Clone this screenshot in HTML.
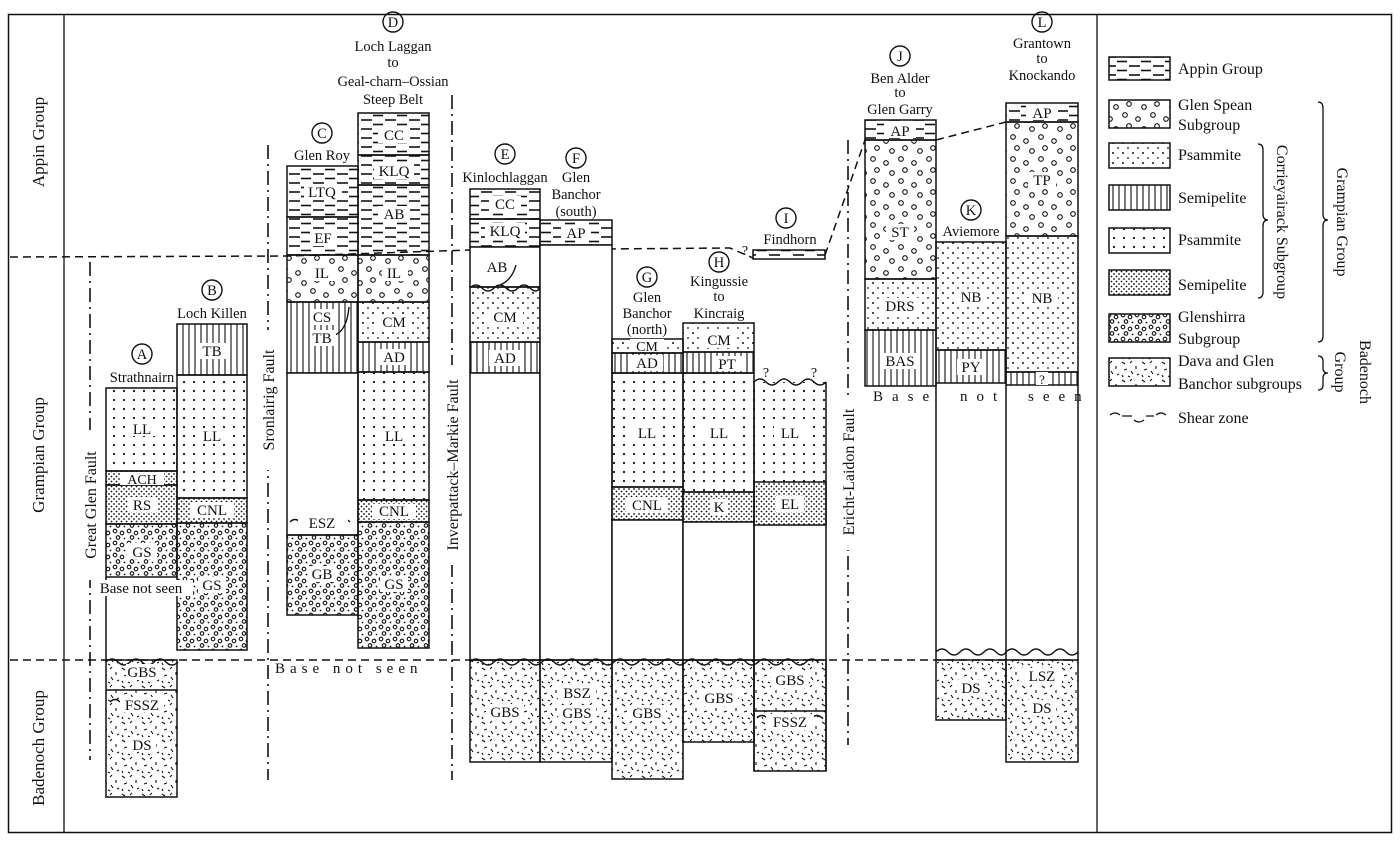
<!DOCTYPE html>
<html><head><meta charset="utf-8"><style>
html,body{margin:0;padding:0;background:#fff}
svg{display:block}
text{font-family:"Liberation Serif",serif;fill:#111}
</style></head><body>
<svg width="1400" height="853" viewBox="0 0 1400 853" xmlns="http://www.w3.org/2000/svg">
<defs>
<pattern id="ap" width="24" height="9" patternUnits="userSpaceOnUse">
<line x1="1" y1="3" x2="12" y2="3" stroke="#111" stroke-width="1.6"/>
<line x1="13" y1="7.5" x2="23" y2="7.5" stroke="#111" stroke-width="1.6"/>
</pattern>
<pattern id="sp" width="28" height="22" patternUnits="userSpaceOnUse">
<circle cx="5" cy="5" r="2.3" fill="none" stroke="#111" stroke-width="1.1"/>
<circle cx="18" cy="9" r="2.3" fill="none" stroke="#111" stroke-width="1.1"/>
<circle cx="9" cy="16" r="2.3" fill="none" stroke="#111" stroke-width="1.1"/>
<circle cx="24" cy="19" r="2.3" fill="none" stroke="#111" stroke-width="1.1"/>
</pattern>
<pattern id="ps" width="10" height="10" patternUnits="userSpaceOnUse">
<circle cx="3" cy="3" r="1" fill="#111"/><circle cx="8" cy="8" r="0.9" fill="#111"/>
</pattern>
<pattern id="ps2" width="10" height="9" patternUnits="userSpaceOnUse">
<circle cx="4" cy="4" r="1.1" fill="#111"/>
</pattern>
<pattern id="sm" width="6" height="10" patternUnits="userSpaceOnUse">
<line x1="3" y1="0" x2="3" y2="10" stroke="#111" stroke-width="1.1"/>
</pattern>
<pattern id="sm2" width="5" height="5" patternUnits="userSpaceOnUse">
<circle cx="1.5" cy="1.5" r="0.9" fill="#111"/><circle cx="4" cy="4" r="0.9" fill="#111"/>
</pattern>
<pattern id="gs" width="14" height="12" patternUnits="userSpaceOnUse">
<circle cx="3" cy="3" r="1.8" fill="none" stroke="#111" stroke-width="1.1"/>
<circle cx="10" cy="5" r="1.8" fill="none" stroke="#111" stroke-width="1.1"/>
<circle cx="6" cy="9.5" r="1.8" fill="none" stroke="#111" stroke-width="1.1"/>
<circle cx="12.5" cy="10.5" r="0.9" fill="#111"/>
</pattern>
<pattern id="dv" width="20" height="18" patternUnits="userSpaceOnUse">
<g stroke="#111" stroke-width="1.1">
<line x1="2" y1="2" x2="5" y2="4"/><line x1="10" y1="3" x2="12" y2="1"/><line x1="16" y1="6" x2="16" y2="9"/>
<line x1="4" y1="10" x2="7" y2="9"/><line x1="11" y1="11" x2="13" y2="14"/><line x1="2" y1="15" x2="3" y2="17"/>
<line x1="17" y1="15" x2="19" y2="14"/><line x1="8" y1="16" x2="10" y2="17"/>
</g>
</pattern>
</defs>

<rect x="8.5" y="14.5" width="1383" height="818" fill="none" stroke="#111" stroke-width="1.5"/>
<line x1="64" y1="14" x2="64" y2="832" stroke="#111" stroke-width="1.3"/>
<line x1="1097" y1="14" x2="1097" y2="832" stroke="#111" stroke-width="1.3"/>

<text transform="translate(44,142) rotate(-90)" font-size="17" text-anchor="middle">Appin Group</text>
<text transform="translate(44,455) rotate(-90)" font-size="17" text-anchor="middle">Grampian Group</text>
<text transform="translate(44,748) rotate(-90)" font-size="17" text-anchor="middle">Badenoch Group</text>

<!-- faults -->
<g stroke="#111" stroke-width="1.6" stroke-dasharray="14,5,2,5" fill="none">
<line x1="90" y1="262" x2="90" y2="760"/>
<line x1="268" y1="145" x2="268" y2="780"/>
<line x1="452" y1="95" x2="452" y2="780"/>
<line x1="848" y1="140" x2="848" y2="745"/>
</g>
<g font-size="16" text-anchor="middle">
<rect x="80" y="430" width="20" height="150" fill="#fff"/>
<text transform="translate(96,505) rotate(-90)">Great Glen Fault</text>
<rect x="258" y="330" width="20" height="140" fill="#fff"/>
<text transform="translate(274,400) rotate(-90)">Sronlairig Fault</text>
<rect x="442" y="365" width="20" height="200" fill="#fff"/>
<text transform="translate(458,465) rotate(-90)">Inverpattack–Markie Fault</text>
<rect x="838" y="400" width="20" height="150" fill="#fff"/>
<text transform="translate(854,472) rotate(-90)">Ericht-Laidon Fault</text>
</g>

<!-- boundary dashed lines -->
<g stroke="#111" stroke-width="1.5" stroke-dasharray="8,5" fill="none">
<polyline points="10,257 290,256 470,250 730,248 753,258"/>
<polyline points="825,255 865,140"/>
<polyline points="936,140 1006,122"/>
<line x1="10" y1="660" x2="1078" y2="660"/>
</g>

<g stroke="#111" stroke-width="1.5">
<!-- A -->
<rect x="106" y="388" width="71" height="83" fill="url(#ps2)"/>
<rect x="106" y="471" width="71" height="14" fill="url(#sm2)"/>
<rect x="106" y="485" width="71" height="39" fill="url(#sm2)"/>
<rect x="106" y="524" width="71" height="53" fill="url(#gs)"/>
<line x1="106" y1="577" x2="106" y2="660"/>
<rect x="106" y="660" width="71" height="137" fill="url(#dv)"/>
<!-- B -->
<rect x="177" y="324" width="70" height="51" fill="url(#sm)"/>
<rect x="177" y="375" width="70" height="123" fill="url(#ps2)"/>
<rect x="177" y="498" width="70" height="25" fill="url(#sm2)"/>
<rect x="177" y="523" width="70" height="127" fill="url(#gs)"/>
<!-- C -->
<rect x="287" y="166" width="71" height="51" fill="url(#ap)"/>
<rect x="287" y="217" width="71" height="38" fill="url(#ap)"/>
<rect x="287" y="255" width="71" height="47" fill="url(#sp)"/>
<rect x="287" y="302" width="71" height="71" fill="url(#sm)"/>
<rect x="287" y="373" width="71" height="162" fill="#fff"/>
<rect x="287" y="535" width="71" height="80" fill="url(#gs)"/>
<!-- D -->
<rect x="358" y="113" width="71" height="42" fill="url(#ap)"/>
<rect x="358" y="155" width="71" height="30" fill="url(#ap)"/>
<rect x="358" y="185" width="71" height="70" fill="url(#ap)"/>
<rect x="358" y="255" width="71" height="47" fill="url(#sp)"/>
<rect x="358" y="302" width="71" height="40" fill="url(#ps)"/>
<rect x="358" y="342" width="71" height="30" fill="url(#sm)"/>
<rect x="358" y="372" width="71" height="128" fill="url(#ps2)"/>
<rect x="358" y="500" width="71" height="22" fill="url(#sm2)"/>
<rect x="358" y="522" width="71" height="126" fill="url(#gs)"/>
<!-- E -->
<rect x="470" y="189" width="70" height="30" fill="url(#ap)"/>
<rect x="470" y="219" width="70" height="28" fill="url(#ap)"/>
<rect x="470" y="247" width="70" height="40" fill="#fff"/>
<rect x="470" y="287" width="70" height="55" fill="url(#ps)"/>
<rect x="470" y="342" width="70" height="31" fill="url(#sm)"/>
<rect x="470" y="373" width="70" height="287" fill="#fff"/>
<rect x="470" y="660" width="70" height="102" fill="url(#dv)"/>
<!-- F -->
<rect x="540" y="220" width="72" height="25" fill="url(#ap)"/>
<rect x="540" y="245" width="72" height="415" fill="#fff"/>
<rect x="540" y="660" width="72" height="102" fill="url(#dv)"/>
<!-- G -->
<rect x="612" y="339" width="71" height="14" fill="url(#ps)"/>
<rect x="612" y="353" width="71" height="20" fill="url(#sm)"/>
<rect x="612" y="373" width="71" height="114" fill="url(#ps2)"/>
<rect x="612" y="487" width="71" height="33" fill="url(#sm2)"/>
<rect x="612" y="520" width="71" height="140" fill="#fff"/>
<rect x="612" y="660" width="71" height="119" fill="url(#dv)"/>
<!-- H -->
<rect x="683" y="323" width="71" height="29" fill="url(#ps)"/>
<rect x="683" y="352" width="71" height="21" fill="url(#sm)"/>
<rect x="683" y="373" width="71" height="119" fill="url(#ps2)"/>
<rect x="683" y="492" width="71" height="30" fill="url(#sm2)"/>
<rect x="683" y="522" width="71" height="138" fill="#fff"/>
<rect x="683" y="660" width="71" height="82" fill="url(#dv)"/>
<!-- I -->
<rect x="753" y="250" width="72" height="9" fill="url(#ap)"/>
<rect x="754" y="382" width="72" height="100" fill="url(#ps2)" stroke="none"/>
<path d="M754,382 q6,-6 12,0 t12,0 t12,0 t12,0 t12,0 t12,0" fill="none"/>
<line x1="754" y1="382" x2="754" y2="771"/><line x1="826" y1="382" x2="826" y2="771"/>
<rect x="754" y="482" width="72" height="43" fill="url(#sm2)"/>
<rect x="754" y="660" width="72" height="111" fill="url(#dv)"/>
<!-- J -->
<rect x="865" y="120" width="71" height="20" fill="url(#ap)"/>
<rect x="865" y="140" width="71" height="139" fill="url(#sp)"/>
<rect x="865" y="279" width="71" height="51" fill="url(#ps)"/>
<rect x="865" y="330" width="71" height="56" fill="url(#sm)"/>
<!-- K -->
<rect x="936" y="242" width="70" height="108" fill="url(#ps)"/>
<rect x="936" y="350" width="70" height="33" fill="url(#sm)"/>
<line x1="936" y1="383" x2="936" y2="660"/>
<rect x="936" y="660" width="70" height="60" fill="url(#dv)"/>
<!-- L -->
<rect x="1006" y="103" width="72" height="19" fill="url(#ap)"/>
<rect x="1006" y="122" width="72" height="114" fill="url(#sp)"/>
<rect x="1006" y="236" width="72" height="136" fill="url(#ps)"/>
<rect x="1006" y="372" width="72" height="13" fill="url(#sm)"/>
<line x1="1006" y1="385" x2="1006" y2="660"/><line x1="1078" y1="385" x2="1078" y2="660"/>
<rect x="1006" y="660" width="72" height="102" fill="url(#dv)"/>
</g>

<!-- wavy shear tops -->
<g stroke="#111" stroke-width="1.4" fill="none">
<path d="M106,662 q6,-6 12,0 t12,0 t12,0 t12,0 t12,0 t12,0"/>
<path d="M470,662 q6,-6 12,0 t12,0 t12,0 t12,0 t12,0 t12,0 t12,0 t12,0 t12,0 t12,0 t12,0 t12,0 t12,0 t12,0 t12,0 t12,0 t12,0 t12,0 t12,0 t12,0 t12,0 t12,0 t12,0 t12,0 t12,0 t12,0 t12,0 t12,0 t12,0"/>
<path d="M470,288 q6,-6 12,0 t12,0 t12,0 t12,0 t12,0 t10,0"/>
<path d="M936,652 q6,-6 12,0 t12,0 t12,0 t12,0 t12,0 t10,0"/>
<path d="M1006,652 q6,-6 12,0 t12,0 t12,0 t12,0 t12,0 t12,0"/>
<path d="M110,702 q5,-5 10,0 M150,702 q5,-5 10,0"/>
<path d="M290,522 q5,-5 10,0 M340,522 q5,-5 10,0"/>
<path d="M757,718 q5,-5 10,0 M812,718 q5,-5 10,0"/>
<line x1="754" y1="711" x2="826" y2="711"/>
<line x1="106" y1="690" x2="177" y2="690"/>
<path d="M500,285 q12,-5 16,-20"/>
<path d="M335,335 q12,-5 14,-28"/>
</g>

<!-- labels -->
<g font-size="15" text-anchor="middle">
<rect x="126" y="420" width="32" height="16" fill="#fff"/><text x="142" y="434">LL</text>
<rect x="120" y="472" width="44" height="13" fill="#fff"/><text x="142" y="484" font-size="14">ACH</text>
<rect x="128" y="497" width="30" height="15" fill="#fff"/><text x="142" y="510">RS</text>
<rect x="127" y="543" width="30" height="16" fill="#fff"/><text x="142" y="557">GS</text>
<rect x="95" y="580" width="98" height="16" fill="#fff"/><text x="141" y="593">Base not seen</text>
<rect x="126" y="664" width="32" height="16" fill="#fff"/><text x="142" y="677">GBS</text>
<rect x="120" y="697" width="44" height="15" fill="#fff"/><text x="142" y="710">FSSZ</text>
<rect x="128" y="737" width="28" height="15" fill="#fff"/><text x="142" y="750">DS</text>

<rect x="198" y="343" width="28" height="16" fill="#fff"/><text x="212" y="356">TB</text>
<rect x="196" y="428" width="32" height="16" fill="#fff"/><text x="212" y="441">LL</text>
<rect x="190" y="502" width="44" height="16" fill="#fff"/><text x="212" y="515">CNL</text>
<rect x="198" y="577" width="28" height="16" fill="#fff"/><text x="212" y="590">GS</text>

<rect x="304" y="184" width="38" height="16" fill="#fff"/><text x="322" y="197">LTQ</text>
<rect x="310" y="230" width="26" height="16" fill="#fff"/><text x="323" y="243">EF</text>
<rect x="310" y="265" width="26" height="16" fill="#fff"/><text x="322" y="278">IL</text>
<rect x="310" y="309" width="26" height="16" fill="#fff"/><text x="322" y="322">CS</text>
<rect x="310" y="330" width="26" height="16" fill="#fff"/><text x="322" y="343">TB</text>
<rect x="298" y="515" width="50" height="16" fill="#fff"/><text x="322" y="528">ESZ</text>
<rect x="308" y="566" width="28" height="16" fill="#fff"/><text x="322" y="579">GB</text>

<rect x="378" y="127" width="32" height="16" fill="#fff"/><text x="394" y="140">CC</text>
<rect x="374" y="163" width="40" height="16" fill="#fff"/><text x="394" y="176">KLQ</text>
<rect x="378" y="206" width="32" height="16" fill="#fff"/><text x="394" y="219">AB</text>
<rect x="382" y="265" width="26" height="16" fill="#fff"/><text x="394" y="278">IL</text>
<rect x="376" y="314" width="36" height="16" fill="#fff"/><text x="394" y="327">CM</text>
<rect x="378" y="349" width="32" height="16" fill="#fff"/><text x="394" y="362">AD</text>
<rect x="378" y="428" width="32" height="16" fill="#fff"/><text x="394" y="441">LL</text>
<rect x="372" y="504" width="44" height="15" fill="#fff"/><text x="394" y="516">CNL</text>
<rect x="380" y="576" width="28" height="16" fill="#fff"/><text x="394" y="589">GS</text>

<rect x="489" y="196" width="32" height="16" fill="#fff"/><text x="505" y="209">CC</text>
<rect x="485" y="223" width="40" height="16" fill="#fff"/><text x="505" y="236">KLQ</text>
<text x="497" y="272">AB</text>
<rect x="487" y="309" width="36" height="16" fill="#fff"/><text x="505" y="322">CM</text>
<rect x="489" y="350" width="32" height="16" fill="#fff"/><text x="505" y="363">AD</text>
<rect x="486" y="704" width="38" height="16" fill="#fff"/><text x="505" y="717">GBS</text>

<rect x="561" y="225" width="30" height="15" fill="#fff"/><text x="576" y="238">AP</text>
<rect x="558" y="685" width="38" height="16" fill="#fff"/><text x="577" y="698">BSZ</text>
<rect x="558" y="705" width="38" height="16" fill="#fff"/><text x="577" y="718">GBS</text>

<rect x="630" y="339" width="34" height="13" fill="#fff"/><text x="647" y="351" font-size="14">CM</text>
<rect x="631" y="355" width="32" height="16" fill="#fff"/><text x="647" y="368">AD</text>
<rect x="631" y="425" width="32" height="16" fill="#fff"/><text x="647" y="438">LL</text>
<rect x="626" y="497" width="42" height="16" fill="#fff"/><text x="647" y="510">CNL</text>
<rect x="628" y="705" width="38" height="16" fill="#fff"/><text x="647" y="718">GBS</text>

<rect x="701" y="332" width="36" height="16" fill="#fff"/><text x="719" y="345">CM</text>
<rect x="712" y="356" width="30" height="15" fill="#fff"/><text x="727" y="369">PT</text>
<rect x="703" y="425" width="32" height="16" fill="#fff"/><text x="719" y="438">LL</text>
<rect x="710" y="499" width="18" height="16" fill="#fff"/><text x="719" y="512">K</text>
<rect x="700" y="690" width="38" height="16" fill="#fff"/><text x="719" y="703">GBS</text>

<rect x="774" y="425" width="32" height="16" fill="#fff"/><text x="790" y="438">LL</text>
<rect x="776" y="496" width="28" height="16" fill="#fff"/><text x="790" y="509">EL</text>
<rect x="771" y="672" width="38" height="16" fill="#fff"/><text x="790" y="685">GBS</text>
<rect x="766" y="714" width="48" height="16" fill="#fff"/><text x="790" y="727">FSSZ</text>
<text x="766" y="377" font-size="14">?</text><text x="814" y="377" font-size="14">?</text>
<text x="745" y="255" font-size="14">?</text>

<rect x="884" y="123" width="32" height="15" fill="#fff"/><text x="900" y="136">AP</text>
<rect x="886" y="224" width="28" height="16" fill="#fff"/><text x="900" y="237">ST</text>
<rect x="880" y="298" width="40" height="16" fill="#fff"/><text x="900" y="311">DRS</text>
<rect x="882" y="353" width="36" height="16" fill="#fff"/><text x="900" y="366">BAS</text>

<rect x="955" y="289" width="32" height="16" fill="#fff"/><text x="971" y="302">NB</text>
<rect x="957" y="359" width="28" height="16" fill="#fff"/><text x="971" y="372">PY</text>
<rect x="957" y="680" width="28" height="16" fill="#fff"/><text x="971" y="693">DS</text>

<rect x="1026" y="105" width="32" height="15" fill="#fff"/><text x="1042" y="118">AP</text>
<rect x="1028" y="172" width="28" height="16" fill="#fff"/><text x="1042" y="185">TP</text>
<rect x="1026" y="290" width="32" height="16" fill="#fff"/><text x="1042" y="303">NB</text>
<rect x="1036" y="372" width="12" height="13" fill="#fff"/><text x="1042" y="384" font-size="13">?</text>
<rect x="1022" y="668" width="40" height="16" fill="#fff"/><text x="1042" y="681">LSZ</text>
<rect x="1028" y="700" width="28" height="16" fill="#fff"/><text x="1042" y="713">DS</text>

<text x="873" y="401" font-size="15" letter-spacing="9" text-anchor="start">Base</text>
<text x="960" y="401" font-size="15" letter-spacing="9" text-anchor="start">not</text>
<text x="1028" y="401" font-size="15" letter-spacing="9" text-anchor="start">seen</text>
<text x="275" y="673" font-size="15" letter-spacing="5" text-anchor="start">Base not seen</text>
</g>

<!-- column titles -->
<g font-size="14.5" text-anchor="middle" stroke="none">
<g fill="none" stroke="#111" stroke-width="1.4">
<circle cx="142" cy="354" r="10"/><circle cx="212" cy="290" r="10"/>
<circle cx="322" cy="133" r="10"/><circle cx="393" cy="22" r="10"/>
<circle cx="505" cy="154" r="10"/><circle cx="576" cy="158" r="10"/>
<circle cx="647" cy="277" r="10"/><circle cx="719" cy="262" r="10"/>
<circle cx="786" cy="218" r="10"/><circle cx="900" cy="56" r="10"/>
<circle cx="971" cy="210" r="10"/><circle cx="1042" cy="22" r="10"/>
</g>
<text x="142" y="359">A</text><text x="212" y="295">B</text><text x="322" y="138">C</text>
<text x="393" y="27">D</text><text x="505" y="159">E</text><text x="576" y="163">F</text>
<text x="647" y="282">G</text><text x="719" y="267">H</text><text x="786" y="223">I</text>
<text x="900" y="61">J</text><text x="971" y="215">K</text><text x="1042" y="27">L</text>
<text x="142" y="382">Strathnairn</text>
<text x="212" y="318">Loch Killen</text>
<text x="322" y="160">Glen Roy</text>
<text x="393" y="51">Loch Laggan</text><text x="393" y="67">to</text>
<text x="393" y="86">Geal-charn–Ossian</text><text x="393" y="104">Steep Belt</text>
<text x="505" y="182">Kinlochlaggan</text>
<text x="576" y="182">Glen</text><text x="576" y="199">Banchor</text><text x="576" y="216">(south)</text>
<text x="647" y="302">Glen</text><text x="647" y="318">Banchor</text><text x="647" y="334">(north)</text>
<text x="719" y="286">Kingussie</text><text x="719" y="301">to</text><text x="719" y="318">Kincraig</text>
<text x="790" y="244">Findhorn</text>
<text x="900" y="83">Ben Alder</text><text x="900" y="97">to</text><text x="900" y="114">Glen Garry</text>
<text x="971" y="236">Aviemore</text>
<text x="1042" y="48">Grantown</text><text x="1042" y="63">to</text><text x="1042" y="80">Knockando</text>
</g>

<!-- legend -->
<g stroke="#111" stroke-width="1.5">
<rect x="1109" y="57" width="61" height="23" fill="url(#ap)"/>
<rect x="1109" y="100" width="61" height="28" fill="url(#sp)"/>
<rect x="1109" y="143" width="61" height="25" fill="url(#ps)"/>
<rect x="1109" y="185" width="61" height="25" fill="url(#sm)"/>
<rect x="1109" y="228" width="61" height="25" fill="url(#ps2)"/>
<rect x="1109" y="270" width="61" height="25" fill="url(#sm2)"/>
<rect x="1109" y="314" width="61" height="28" fill="url(#gs)"/>
<rect x="1109" y="358" width="61" height="28" fill="url(#dv)"/>
<path d="M1110,415 q5,-4 10,0 M1122,416 h10 M1134,420 q5,4 10,0 M1146,416 h8 M1156,415 q5,-4 10,0" fill="none" stroke-width="1.2"/>
<g fill="none" stroke-width="1.3">
<path d="M1258,144 q5,0 5,6 V214 q0,6 5,6 q-5,0 -5,6 V292 q0,6 -5,6"/>
<path d="M1318,102 q5,0 5,6 V214 q0,6 5,6 q-5,0 -5,6 V336 q0,6 -5,6"/>
<path d="M1318,356 q5,0 5,5 V368 q0,5 5,5 q-5,0 -5,5 V385 q0,5 -5,5"/>
</g>
</g>
<g font-size="16">
<text x="1178" y="74">Appin Group</text>
<text x="1178" y="110">Glen Spean</text><text x="1178" y="130">Subgroup</text>
<text x="1178" y="160">Psammite</text>
<text x="1178" y="203">Semipelite</text>
<text x="1178" y="245">Psammite</text>
<text x="1178" y="290">Semipelite</text>
<text x="1178" y="322">Glenshirra</text><text x="1178" y="344">Subgroup</text>
<text x="1178" y="366">Dava and Glen</text><text x="1178" y="389">Banchor subgroups</text>
<text x="1178" y="423">Shear zone</text>
<text transform="translate(1277,222) rotate(90)" text-anchor="middle">Corrieyairack Subgroup</text>
<text transform="translate(1337,222) rotate(90)" text-anchor="middle">Grampian Group</text>
<text transform="translate(1335,372) rotate(90)" text-anchor="middle">Group</text>
<text transform="translate(1360,372) rotate(90)" text-anchor="middle">Badenoch</text>
</g>
</svg>
</body></html>
